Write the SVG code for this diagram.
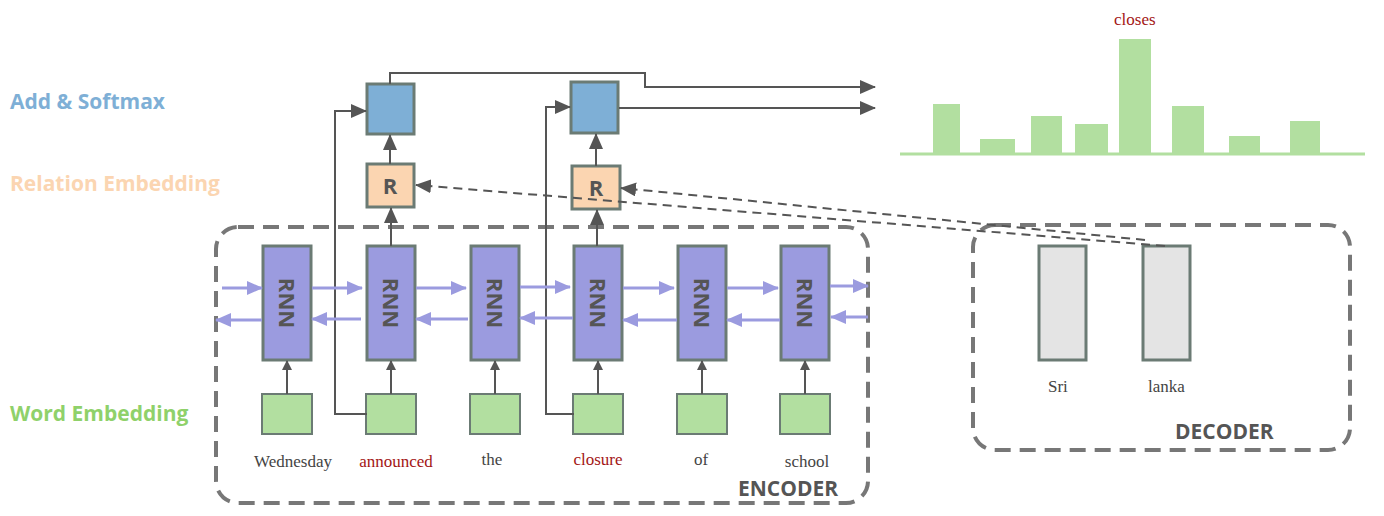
<svg xmlns="http://www.w3.org/2000/svg" width="1384" height="516" viewBox="0 0 1384 516">
<defs>
<marker id="ag" markerWidth="10" markerHeight="10" refX="9" refY="5" orient="auto" markerUnits="userSpaceOnUse"><path d="M0,0 L10,5 L0,10 z" fill="#555"/></marker>
<marker id="ag2" markerWidth="16" markerHeight="14" refX="15" refY="7" orient="auto" markerUnits="userSpaceOnUse"><path d="M0,0 L16,7 L0,14 z" fill="#555"/></marker>
<marker id="ap" markerWidth="16" markerHeight="14" refX="15" refY="7" orient="auto" markerUnits="userSpaceOnUse"><path d="M0,0 L16,7 L0,14 z" fill="#9b9bdf"/></marker>
</defs>
<style>
.rnn{fill:#9b9bdf;stroke:#6b7b74;stroke-width:3}
.we{fill:#b2dfa0;stroke:#6b7b74;stroke-width:2}
.bl{fill:#7eafd6;stroke:#6b7b74;stroke-width:3}
.rr{fill:#fbd5b1;stroke:#6b7b74;stroke-width:3}
.dec{fill:#e4e4e4;stroke:#6b7b74;stroke-width:3}
.rt{font-family:"Open Sans","DejaVu Sans",sans-serif;font-weight:bold;font-size:22px;fill:#555}
.w{font-family:"Liberation Serif",serif;font-size:17px;fill:#444}
.wr{font-family:"Liberation Serif",serif;font-size:17px;fill:#a31515}
.lab{font-family:"Open Sans","DejaVu Sans",sans-serif;font-weight:bold;font-size:21px}
.ln{stroke:#555;stroke-width:2;fill:none}
.pf{stroke:#9b9bdf;stroke-width:3;fill:none}
.bar{fill:#b2dfa0}
</style>
<text class="lab" x="10" y="109" fill="#7eafd6">Add &amp; Softmax</text>
<text class="lab" x="10" y="191" fill="#fbd5b1">Relation Embedding</text>
<text class="lab" x="10" y="421" fill="#8fd16a">Word Embedding</text>
<g id="encoder"><rect x="216" y="227" width="652" height="276" rx="22" fill="none" stroke="#777" stroke-width="4" stroke-dasharray="16,9"/><text class="lab" x="738" y="496" fill="#555">ENCODER</text></g>
<g id="decoder"><rect x="973" y="225" width="377" height="225" rx="22" fill="none" stroke="#777" stroke-width="4" stroke-dasharray="16,9"/><text class="lab" x="1175" y="439" fill="#555">DECODER</text>
<rect class="dec" x="1039" y="246" width="47" height="114"/><rect class="dec" x="1143" y="246" width="47" height="114"/>
<text class="w" x="1048" y="392">Sri</text><text class="w" x="1148" y="392">lanka</text></g>
<g id="chart">
<rect class="bar" x="933" y="104" width="27" height="50"/><rect class="bar" x="980" y="139" width="35" height="15"/><rect class="bar" x="1031" y="116" width="31" height="38"/><rect class="bar" x="1075" y="124" width="33" height="30"/><rect class="bar" x="1119" y="39" width="32" height="115"/><rect class="bar" x="1172" y="106" width="32" height="48"/><rect class="bar" x="1229" y="136" width="31" height="18"/><rect class="bar" x="1290" y="121" width="30" height="33"/>
<line x1="900" y1="154" x2="1365" y2="154" stroke="#b2dfa0" stroke-width="3"/>
<text class="wr" x="1114" y="25">closes</text></g>
<g id="nodes">
<g id="rnn1"><rect class="rnn" x="263" y="246" width="48" height="114"/><text class="rt" transform="translate(287,303) rotate(90)" text-anchor="middle" dy="8">RNN</text></g>
<g id="rnn2"><rect class="rnn" x="367" y="246" width="48" height="114"/><text class="rt" transform="translate(391,303) rotate(90)" text-anchor="middle" dy="8">RNN</text></g>
<g id="rnn3"><rect class="rnn" x="471" y="246" width="48" height="114"/><text class="rt" transform="translate(495,303) rotate(90)" text-anchor="middle" dy="8">RNN</text></g>
<g id="rnn4"><rect class="rnn" x="574" y="246" width="48" height="114"/><text class="rt" transform="translate(598,303) rotate(90)" text-anchor="middle" dy="8">RNN</text></g>
<g id="rnn5"><rect class="rnn" x="678" y="246" width="48" height="114"/><text class="rt" transform="translate(702,303) rotate(90)" text-anchor="middle" dy="8">RNN</text></g>
<g id="rnn6"><rect class="rnn" x="781" y="246" width="48" height="114"/><text class="rt" transform="translate(805,303) rotate(90)" text-anchor="middle" dy="8">RNN</text></g>
<g id="we1"><rect class="we" x="262" y="394" width="50" height="40"/><text class="w" x="293" y="467" text-anchor="middle">Wednesday</text></g>
<g id="we2"><rect class="we" x="366" y="394" width="50" height="40"/><text class="wr" x="396" y="467" text-anchor="middle">announced</text></g>
<g id="we3"><rect class="we" x="470" y="394" width="50" height="40"/><text class="w" x="492" y="465" text-anchor="middle">the</text></g>
<g id="we4"><rect class="we" x="573" y="394" width="50" height="40"/><text class="wr" x="598" y="465" text-anchor="middle">closure</text></g>
<g id="we5"><rect class="we" x="677" y="394" width="50" height="40"/><text class="w" x="701" y="465" text-anchor="middle">of</text></g>
<g id="we6"><rect class="we" x="780" y="394" width="50" height="40"/><text class="w" x="807" y="467" text-anchor="middle">school</text></g>
<g id="sm1"><rect class="bl" x="367" y="84" width="47" height="50"/></g>
<g id="sm2"><rect class="bl" x="571" y="82" width="47" height="51"/></g>
<g id="r1"><rect class="rr" x="367" y="164" width="47" height="43"/><text class="rt" x="390" y="194" text-anchor="middle" fill="#5e6e66">R</text></g>
<g id="r2"><rect class="rr" x="572" y="166" width="48" height="43"/><text class="rt" x="596" y="196" text-anchor="middle" fill="#5e6e66">R</text></g>
</g>
<g id="connectors">
<g class="ln" marker-end="url(#ag)">
<line x1="287" y1="394" x2="287" y2="361"/><line x1="391" y1="394" x2="391" y2="361"/><line x1="495" y1="394" x2="495" y2="361"/><line x1="598" y1="394" x2="598" y2="361"/><line x1="702" y1="394" x2="702" y2="361"/><line x1="805" y1="394" x2="805" y2="361"/>
</g>
<g class="ln" marker-end="url(#ag2)">
<line x1="391" y1="246" x2="391" y2="208"/><line x1="597" y1="246" x2="597" y2="210"/>
<line x1="390" y1="164" x2="390" y2="135"/><line x1="596" y1="166" x2="596" y2="134"/>
<path d="M367,414 H335 V111 H366"/><path d="M574,414 H546 V107 H570"/>
<path d="M390,84 V73 H645 V87 H875"/><path d="M619,108 H875"/>
<path d="M1165,246 L416,185" stroke-dasharray="9,6"/><path d="M1145,240 L621,188" stroke-dasharray="9,6"/>
</g>
<g class="pf" marker-end="url(#ap)">
<line x1="222" y1="288" x2="262" y2="288"/><line x1="312" y1="288" x2="362" y2="288"/><line x1="416" y1="288" x2="466" y2="288"/><line x1="520" y1="287" x2="570" y2="287"/><line x1="623" y1="288" x2="674" y2="288"/><line x1="727" y1="288" x2="778" y2="288"/><line x1="830" y1="286" x2="868" y2="286"/>
<line x1="262" y1="320" x2="216" y2="320"/><line x1="361" y1="319" x2="312" y2="319"/><line x1="468" y1="319" x2="416" y2="319"/><line x1="573" y1="318" x2="520" y2="318"/><line x1="677" y1="320" x2="623" y2="320"/><line x1="780" y1="320" x2="727" y2="320"/><line x1="868" y1="317" x2="831" y2="317"/>
</g>
</g>
</svg>
